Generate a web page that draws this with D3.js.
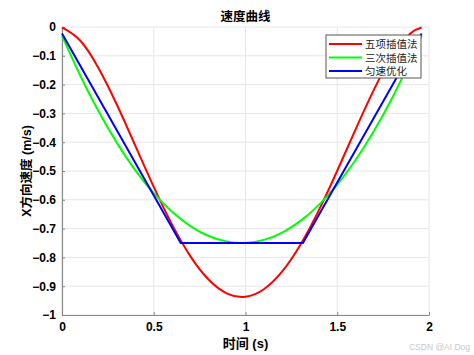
<!DOCTYPE html>
<html><head><meta charset="utf-8">
<script src="https://cdn.jsdelivr.net/npm/d3@7/dist/d3.min.js"></script>
<style>
html,body{margin:0;padding:0;background:#fff;}
svg{display:block;}
text{font-family:"Liberation Sans",Arial,"Noto Sans CJK SC",sans-serif;}
</style></head>
<body>
<svg id="chart" width="474" height="355"></svg>
<script>
// ---- data ----
const timeGrid = [0,0.1,0.2,0.3,0.4,0.5,0.6,0.7,0.8,0.9,1.0,1.1,1.2,1.3,1.4,1.5,1.6,1.7,1.8,1.9,1.96];
const quinticVel = [-0.0015,-0.0477,-0.1438,-0.2709,-0.4128,-0.5553,-0.6863,-0.7963,-0.8777,-0.9255,-0.9368,-0.9107,-0.8489,-0.7553,-0.6359,-0.4991,-0.3553,-0.2174,-0.1006,-0.0221,-0.0015];
const cubicVel = [-0.0297,-0.1692,-0.2937,-0.4032,-0.4977,-0.5772,-0.6417,-0.6912,-0.7257,-0.7452,-0.7497,-0.7392,-0.7137,-0.6732,-0.6177,-0.5472,-0.4617,-0.3612,-0.2457,-0.1152,-0.0297];
const uniformTime = [0,0.647,1.313,1.96];
const uniformVel = [-0.0225,-0.75,-0.75,-0.0225];
const xTicks = [0,0.5,1,1.5,2];
const yTicks = [0,-0.1,-0.2,-0.3,-0.4,-0.5,-0.6,-0.7,-0.8,-0.9,-1];
const seriesNames = ["五项插值法","三次插值法","匀速优化"];
const seriesColors = ["#ff0000","#00ff00","#0000ff"];

const svg = d3.select("#chart");
const L=62, R=429, T=27, B=315;
const x = d3.scaleLinear().domain([0,2]).range([L,R]);
const y = d3.scaleLinear().domain([-1,0]).range([B,T]);

// grid
const g = svg.append("g");
g.selectAll("line.vg").data(xTicks).enter().append("line")
  .attr("x1",d=>x(d)).attr("x2",d=>x(d)).attr("y1",T).attr("y2",B)
  .attr("stroke","#e6e6e6").attr("stroke-width",1);
g.selectAll("line.hg").data(yTicks).enter().append("line")
  .attr("y1",d=>y(d)).attr("y2",d=>y(d)).attr("x1",L).attr("x2",R)
  .attr("stroke","#e6e6e6").attr("stroke-width",1);

// axes
const xAxis = d3.axisBottom(x).tickValues(xTicks).tickSizeInner(-3).tickSizeOuter(0).tickPadding(7).tickFormat(d3.format("~g"));
const yAxis = d3.axisLeft(y).tickValues(yTicks).tickSizeInner(-3).tickSizeOuter(0).tickPadding(6).tickFormat(d3.format("~g"));
const gx = svg.append("g").attr("transform",`translate(0,${B})`).call(xAxis);
const gy = svg.append("g").attr("transform",`translate(${L},0)`).call(yAxis);
[gx,gy].forEach(a=>{
  a.select(".domain").attr("stroke","#8a8a8a").attr("stroke-width",1.2);
  a.selectAll(".tick line").attr("stroke","#8a8a8a");
  a.selectAll(".tick text").attr("fill","#000").attr("font-size",12).attr("font-weight","bold")
    .attr("font-family","'Liberation Sans',Arial,sans-serif");
});

// series
const lineSmooth = d3.line().x(d=>x(d[0])).y(d=>y(d[1])).curve(d3.curveNatural);
const lineStraight = d3.line().x(d=>x(d[0])).y(d=>y(d[1]));
const data = [
  {pts: d3.zip(timeGrid, quinticVel), gen: lineSmooth},
  {pts: d3.zip(timeGrid, cubicVel), gen: lineSmooth},
  {pts: d3.zip(uniformTime, uniformVel), gen: lineStraight}
];
data.forEach((s,i)=>{
  svg.append("path").attr("d",s.gen(s.pts)).attr("fill","none")
    .attr("stroke",seriesColors[i]).attr("stroke-width",2).attr("stroke-linejoin","round");
});

// title & labels
svg.append("text").attr("x",(L+R)/2).attr("y",21).attr("text-anchor","middle")
  .attr("font-size",12.5).attr("font-weight","bold").attr("fill","#000")
  .style("font-family","'Noto Sans CJK SC',sans-serif").text("速度曲线");
svg.append("text").attr("x",(L+R)/2).attr("y",348).attr("text-anchor","middle")
  .attr("font-size",13).attr("font-weight","bold").attr("fill","#000")
  .style("font-family","'Liberation Sans','Noto Sans CJK SC',sans-serif").text("时间 (s)");
svg.append("text").attr("transform",`translate(27,${(T+B)/2}) rotate(-90)`).attr("text-anchor","middle")
  .attr("dy","0.35em")
  .attr("font-size",12.5).attr("font-weight","bold").attr("fill","#000")
  .style("font-family","'Liberation Sans','Noto Sans CJK SC',sans-serif").text("X方向速度 (m/s)");

// legend
const lg = svg.append("g");
lg.append("rect").attr("x",326).attr("y",35).attr("width",95).attr("height",43)
  .attr("fill","#fff").attr("stroke","#555").attr("stroke-width",1);
seriesNames.forEach((n,i)=>{
  const yy = 44 + i*13.5;
  lg.append("line").attr("x1",329).attr("x2",362).attr("y1",yy).attr("y2",yy)
    .attr("stroke",seriesColors[i]).attr("stroke-width",2);
  lg.append("text").attr("x",365).attr("y",yy+4).attr("font-size",10.5).attr("fill","#222")
    .style("font-family","'Noto Sans CJK SC',sans-serif").text(n);
});

// watermark
svg.append("text").attr("x",470).attr("y",350).attr("text-anchor","end").attr("font-size",8.5).attr("fill","#c8c8c8")
  .text("CSDN @AI Dog");
</script>
</body></html>
